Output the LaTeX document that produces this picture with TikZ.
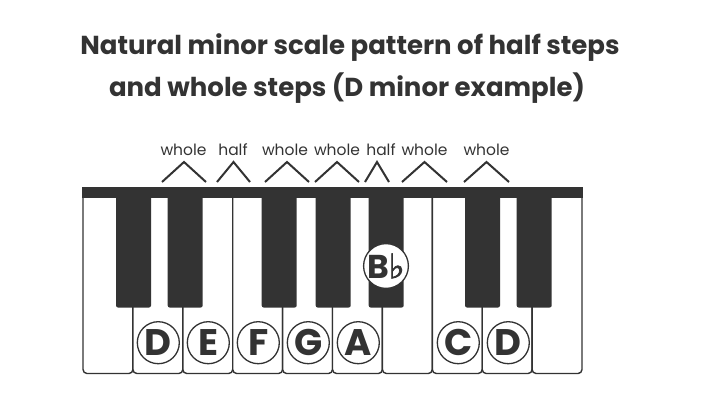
\documentclass[tikz,border=0pt]{standalone}
\usepackage{fontspec}
\setmainfont{Poppins}
\newfontfamily\flatfont[FakeBold=2]{DejaVu Sans}
\definecolor{ink}{HTML}{333333}
\tikzset{
  whitekey/.style={draw=ink, line width=1.4pt, fill=white, rounded corners=4pt},
  blackkey/.style={fill=ink, rounded corners=2pt},
  note/.style={circle, draw=ink, line width=1.3pt, fill=white, minimum size=42pt, inner sep=0pt,
     font=\fontsize{37}{37}\selectfont\bfseries, text=ink},
  steplabel/.style={anchor=base, inner sep=0pt, font=\fontsize{15.5}{15.5}\selectfont, text=ink},
  caret/.style={draw=ink, line width=2pt},
  titletext/.style={anchor=base, inner sep=0pt, font=\fontsize{26}{26}\selectfont\bfseries, text=ink}
}
\begin{document}
\begin{tikzpicture}[x=1pt, y=-1pt]
\useasboundingbox (0,0) rectangle (701,405);
% title
\node[titletext] (t1) at (350,54.5) {Natural minor scale pattern of half steps};
\node[titletext] (t2) at (347,96.5) {and whole steps (D minor example)};
% white keys
\foreach \i in {0,...,9} {
  \pgfmathsetmacro{\xa}{83+\i*49.9}
  \pgfmathsetmacro{\xb}{83+(\i+1)*49.9}
  \draw[whitekey] (\xa,190) |- (\xb,373.5) -- (\xb,190);
}
% black keys
\foreach \xl in {116,167.7,261.7,315.7,368.7,465,516.7} {
  \fill[blackkey] (\xl,190) |- ({\xl+35},307.5) -- ({\xl+35},190) -- cycle;
}
% top bar
\fill[ink] (82.3,187) rectangle (583.3,197.5);
% notes
\node[note] (nD1) at (158.3,342.7) {D};
\node[note] (nE) at (208.3,342.7) {E};
\node[note] (nF) at (258.3,342.7) {F};
\node[note] (nG) at (308.3,342.7) {G};
\node[note] (nA) at (358.3,342.7) {A};
\node[note] (nC) at (458.3,342.7) {C};
\node[note] (nD2) at (508.3,342.7) {D};
\node[note, font=\fontsize{33}{33}\selectfont\bfseries] (nBb) at (386,266) {B\kern-0.5pt{\flatfont\fontsize{34}{34}\selectfont ♭}};
% step carets
\draw[caret] (162,182) -- (184,162) -- (206,182);
\draw[caret] (217,182) -- (233.5,162) -- (250,182);
\draw[caret] (265,182) -- (287,162) -- (309,182);
\draw[caret] (315,182) -- (337,162) -- (359,182);
\draw[caret] (365,182) -- (377,162) -- (389,182);
\draw[caret] (402,182) -- (424.5,162) -- (447,182);
\draw[caret] (464,182) -- (486.5,162) -- (509,182);
% step labels
\node[steplabel] (s1) at (183.5,155) {whole};
\node[steplabel] (s2) at (233,155) {half};
\node[steplabel] (s3) at (285,155) {whole};
\node[steplabel] (s4) at (337,155) {whole};
\node[steplabel] (s5) at (381,155) {half};
\node[steplabel] (s6) at (424.5,155) {whole};
\node[steplabel] (s7) at (486.5,155) {whole};
\end{tikzpicture}
\end{document}
